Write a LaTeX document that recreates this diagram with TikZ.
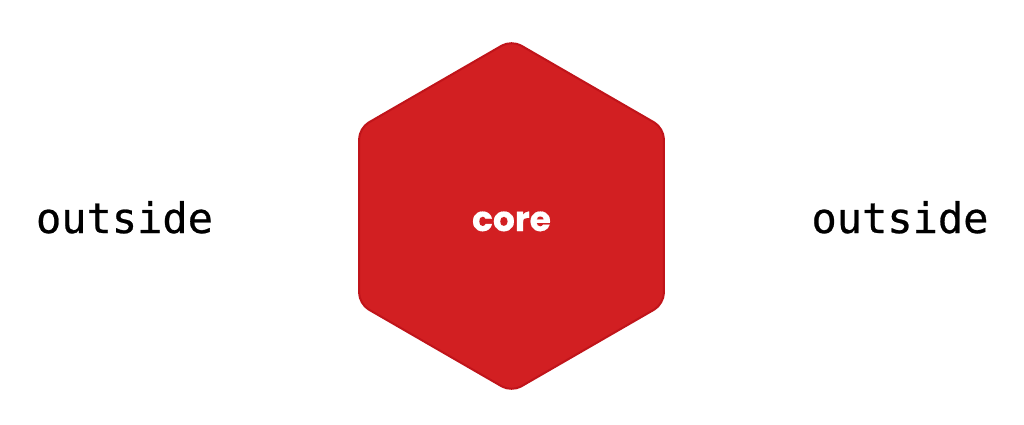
\documentclass[tikz,border=0pt]{standalone}
\usepackage{fontspec}
\newfontfamily\monofont{DejaVu Sans Mono}[FakeBold=0.6]
\newfontfamily\corefont{Poppins}[UprightFont=* Bold, FakeBold=0.4]
\definecolor{hexfill}{HTML}{D21F22}
\definecolor{hexdraw}{HTML}{C0141A}
\begin{document}
\begin{tikzpicture}[x=1pt,y=-1pt,
  outsidelabel/.style={font=\monofont\fontsize{42}{50}\selectfont, text=black, inner sep=0pt, anchor=base},
  corelabel/.style={font=\corefont\fontsize{34.5}{40}\selectfont, text=white, inner sep=0pt, anchor=base},
  hexshape/.style={fill=hexfill, draw=hexdraw, line width=2pt, rounded corners=11pt}]
\useasboundingbox (0,0) rectangle (1024,424);
\coordinate (c) at (511.5,216);
\draw[hexshape] (511.5,40) -- (663.9,128) -- (663.9,304) -- (511.5,392) -- (359.1,304) -- (359.1,128) -- cycle;
\node[corelabel] (core) at (511.5,231) {core};
\node[outsidelabel] (left) at (124.5,233) {outside};
\node[outsidelabel] (right) at (900,233) {outside};
\end{tikzpicture}
\end{document}
